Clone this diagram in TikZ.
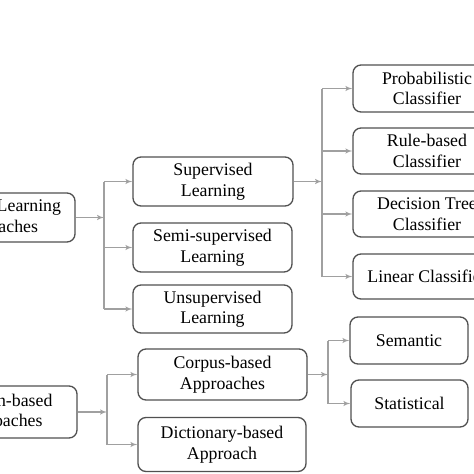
\documentclass[tikz,border=0pt]{standalone}
\usepackage{fontspec}
\setmainfont{Liberation Serif}
\usetikzlibrary{arrows}
\definecolor{boxgray}{HTML}{505050}
\definecolor{linegray}{HTML}{A0A0A0}
\tikzset{
    box/.style={rectangle,rounded corners=8pt,draw=boxgray,line width=1.3pt,align=center,
        font=\fontsize{17.8}{20.5}\selectfont,inner sep=0pt},
    conn/.style={->,> = latex', draw=linegray, line width=1.4pt},
    bar/.style={-, draw=linegray, line width=1.4pt},
}
\begin{document}
\begin{tikzpicture}[x=1pt,y=-1pt]
    \clip (0,0) rectangle (474,474);
    \fill[white] (0,0) rectangle (474,474);
    % level 1
    \node[box,minimum width=159pt,minimum height=49pt] (ml) at (-4.5,217.5) {Machine Learning\\Approaches};
    \node[box,minimum width=154pt,minimum height=52pt] (lex) at (0,412) {Lexicon-based\\Approaches};
    % level 2
    \node[box,minimum width=160pt,minimum height=49pt] (sup) at (213,181.5) {Supervised\\Learning};
    \node[box,minimum width=159pt,minimum height=49pt] (semi) at (212.5,247.5) {Semi-supervised\\Learning};
    \node[box,minimum width=159pt,minimum height=48pt] (unsup) at (212.5,309) {Unsupervised\\Learning};
    \node[box,minimum width=169pt,minimum height=51pt] (corpus) at (222.5,374.5) {Corpus-based\\Approaches};
    \node[box,minimum width=168pt,minimum height=54pt] (dict) at (222,444.5) {Dictionary-based\\Approach};
    % level 3
    \node[box,minimum width=148pt,minimum height=47pt] (prob) at (427,88.5) {Probabilistic\\Classifier};
    \node[box,minimum width=148pt,minimum height=46pt] (rule) at (427,151) {Rule-based\\Classifier};
    \node[box,minimum width=148pt,minimum height=46pt] (dtree) at (427,214) {Decision Tree\\Classifier};
    \node[box,minimum width=148pt,minimum height=45pt] (linear) at (427,276.5) {Linear Classifier};
    \node[box,minimum width=118pt,minimum height=47pt] (sem) at (409,340.5) {Semantic};
    \node[box,minimum width=117pt,minimum height=47pt] (stat) at (409.5,403.5) {Statistical};
    % junctions
    \coordinate (j1) at (104,217.5);
    \coordinate (j2) at (322,181.5);
    \coordinate (j3) at (328,374.5);
    \coordinate (j4) at (107,412);
    \draw[conn] (ml.east) -- (j1);
    \draw[bar] (j1 |- sup) -- (j1 |- unsup);
    \draw[conn] (j1 |- sup) -- (sup.west);
    \draw[conn] (j1 |- semi) -- (semi.west);
    \draw[conn] (j1 |- unsup) -- (unsup.west);
    \draw[conn] (sup.east) -- (j2);
    \draw[bar] (j2 |- prob) -- (j2 |- linear);
    \draw[conn] (j2 |- prob) -- (prob.west);
    \draw[conn] (j2 |- rule) -- (rule.west);
    \draw[conn] (j2 |- dtree) -- (dtree.west);
    \draw[conn] (j2 |- linear) -- (linear.west);
    \draw[conn] (lex.east) -- (j4);
    \draw[bar] (j4 |- corpus) -- (j4 |- dict);
    \draw[conn] (j4 |- corpus) -- (corpus.west);
    \draw[conn] (j4 |- dict) -- (dict.west);
    \draw[conn] (corpus.east) -- (j3);
    \draw[bar] (j3 |- sem) -- (j3 |- stat);
    \draw[conn] (j3 |- sem) -- (sem.west);
    \draw[conn] (j3 |- stat) -- (stat.west);
\end{tikzpicture}
\end{document}
